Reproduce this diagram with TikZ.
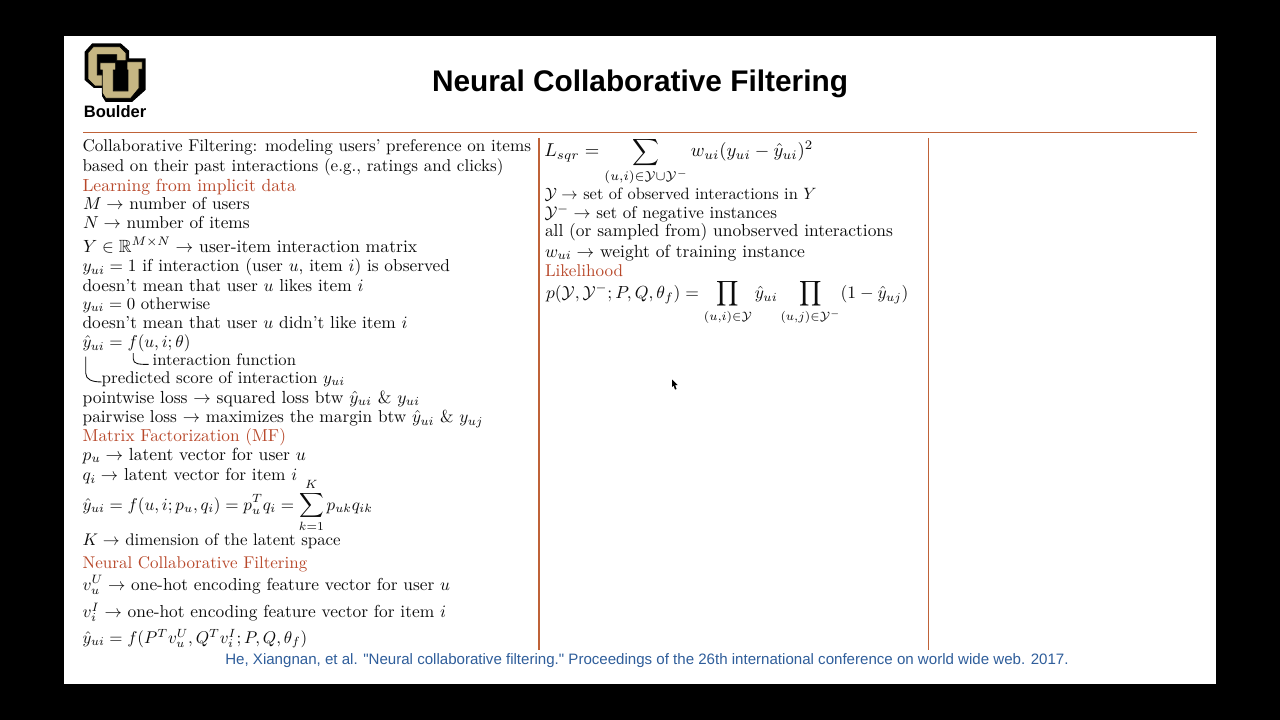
\documentclass[tikz,border=0pt]{standalone}
\usepackage{amsmath,amssymb,graphicx}
\usepackage{fontspec}
\newfontfamily\lib{Liberation Sans}
\definecolor{rust}{HTML}{B8482A}
\definecolor{rulec}{HTML}{BF6238}
\definecolor{cite}{HTML}{2F5E9B}
\definecolor{gold}{HTML}{C6B683}
\definecolor{ink}{HTML}{0C0C0C}
\newdimen\unitpx \unitpx=0.75pt
\newcommand{\fw}[2]{\resizebox{#1\unitpx}{!}{#2}}
\tikzset{
 txt/.style={anchor=base west,inner sep=0pt,outer sep=0pt,text=ink},
 head/.style={txt,text=rust},
 sep/.style={draw=rulec,line width=1.05pt},
 hook/.style={draw=ink,line width=0.65pt},
 logogold/.style={fill=gold,draw=black,line width=0.6pt,line join=miter}
}
\begin{document}
\begin{tikzpicture}[x=0.75pt,y=-0.75pt]
\useasboundingbox (0,0) rectangle (1280,720);
\fill[black] (0,0) rectangle (1280,720);
\fill[white] (64,36) rectangle (1216,684);
% logo
\fill[black] (92.3,43.3)--(120.7,43.3)--(129,50.7)--(129,58.3)--(145.5,58.3)--(145.5,90)--(132,102)--(105.7,102)--(102,96)--(102,88)--(94,88)--(84.7,80)--(84.7,51.7)--cycle;
\path[logogold] (93.3,46.7)--(120,46.7)--(126,52.7)--(126,60.7)--(116.7,60.7)--(116.7,54.7)--(97.3,54.7)--(97.3,75)--(103.3,75)--(103.3,86)--(94.7,86)--(88,79.3)--(88,52.7)--cycle;
\path[logogold] (100,62.7)--(115.7,62.7)--(115.7,70)--(113.3,70)--(113.3,91)--(128,91)--(128,70)--(127,70)--(127,61.7)--(142.3,61.7)--(142.3,69.3)--(139,69.3)--(139,88.3)--(130.7,98.3)--(105.7,98.3)--(102.3,93.3)--(102.3,70)--(100,70)--cycle;
\node[anchor=base west,inner sep=0pt,font=\lib\bfseries,scale=1.24,transform shape] (boulder) at (83.5,118) {Boulder};
\node[anchor=base,inner sep=0pt,font=\lib\bfseries,scale=2.237,transform shape] (title) at (640,92) {Neural Collaborative Filtering};
% rules
\coordinate (r1) at (83,132.5); \coordinate (r2) at (1197,132.5);
\coordinate (v1a) at (539,138); \coordinate (v1b) at (539,650);
\coordinate (v2a) at (928.5,138); \coordinate (v2b) at (928.5,650);
\draw[sep] (r1)--(r2);
\draw[sep] (v1a)--(v1b);
\draw[sep] (v2a)--(v2b);
% left column
\node[txt] (l1) at (82.5,151.7) {\fw{448.5}{Collaborative Filtering: modeling users' preference on items}};
\node[txt] (l2) at (82.5,171.7) {\fw{421}{based on their past interactions (e.g., ratings and clicks)}};
\node[head] (l3) at (82.5,192) {\fw{213.3}{Learning from implicit data}};
\node[txt] (l4) at (83,210) {\fw{166.7}{$M\rightarrow$ number of users}};
\node[txt] (l5) at (83,229) {\fw{166.7}{$N\rightarrow$ number of items}};
\node[txt] (l6) at (83,252.3) {\fw{334.3}{$Y\in\mathbb{R}^{M\times N}\rightarrow$ user-item interaction matrix}};
\node[txt] (l7) at (82.5,271.5) {\fw{367.5}{$y_{ui}=1$ if interaction (user $u$, item $i$) is observed}};
\node[txt] (l8) at (82.5,291) {\fw{281}{doesn't mean that user $u$ likes item $i$}};
\node[txt] (l9) at (82.5,309.3) {\fw{127.7}{$y_{ui}=0$ otherwise}};
\node[txt] (l10) at (82.5,328.3) {\fw{325}{doesn't mean that user $u$ didn't like item $i$}};
\node[txt] (l11) at (82.5,347.5) {\fw{108}{$\hat y_{ui}=f(u,i;\theta)$}};
\node[txt] (l12) at (152.7,365.7) {\fw{143.3}{interaction function}};
\node[txt] (l13) at (101.7,383.3) {\fw{243.3}{predicted score of interaction $y_{ui}$}};
\node[txt] (l14) at (82.7,403) {\fw{337.3}{pointwise loss $\rightarrow$ squared loss btw $\hat y_{ui}$ \& $y_{ui}$}};
\node[txt] (l15) at (82.7,422.7) {\fw{400.6}{pairwise loss $\rightarrow$ maximizes the margin btw $\hat y_{ui}$ \& $y_{uj}$}};
\node[head] (l16) at (82.7,441.7) {\fw{203.3}{Matrix Factorization (MF)}};
\node[txt] (l17) at (82.7,460) {\fw{223.3}{$p_u\rightarrow$ latent vector for user $u$}};
\node[txt] (l18) at (82.7,480.7) {\fw{214.6}{$q_i\rightarrow$ latent vector for item $i$}};
\node[txt] (l19) at (82.7,510) {\fw{290}{$\displaystyle \hat y_{ui}=f(u,i;p_u,q_i)=p_u^Tq_i=\sum_{k=1}^{K}p_{uk}q_{ik}$}};
\node[txt] (l20) at (82.7,545) {\fw{258}{$K\rightarrow$ dimension of the latent space}};
\node[head] (l21) at (82.7,568) {\fw{224.6}{Neural Collaborative Filtering}};
\node[txt] (l22) at (82.7,590) {\fw{367.3}{$v_u^U\rightarrow$ one-hot encoding feature vector for user $u$}};
\node[txt] (l23) at (82.7,617.3) {\fw{363.3}{$v_i^I\rightarrow$ one-hot encoding feature vector for item $i$}};
\node[txt] (l24) at (82.7,643.3) {\fw{224.6}{$\hat y_{ui}=f(P^Tv_u^U,Q^Tv_i^I;P,Q,\theta_f)$}};
% hooks
\coordinate (h1) at (133.3,353);
\coordinate (h2) at (85.7,356.5);
\coordinate (e1) at ([xshift=-3pt,yshift=1pt]l12.base west);
\coordinate (e2) at ([yshift=1pt]l13.base west);
\draw[hook] (h1)--(133.3,359) .. controls (133.3,364) and (139,364.5) .. (e1);
\draw[hook] (h2)--(85.7,373) .. controls (85.7,379.5) and (92,382) .. (e2);
% right column
\node[txt] (r01) at (544.3,157) {\fw{269}{$\displaystyle L_{sqr}=\sum_{(u,i)\in\mathcal{Y}\cup\mathcal{Y}^-}w_{ui}(y_{ui}-\hat y_{ui})^2$}};
\node[txt] (r02) at (544.5,199.7) {\fw{272}{$\mathcal{Y}\rightarrow$ set of observed interactions in $Y$}};
\node[txt] (r03) at (544.5,218.2) {\fw{232.5}{$\mathcal{Y}^-\rightarrow$ set of negative instances}};
\node[txt] (r04) at (545,236.7) {\fw{348}{all (or sampled from) unobserved interactions}};
\node[txt] (r05) at (545,257.3) {\fw{260}{$w_{ui}\rightarrow$ weight of training instance}};
\node[head] (r06) at (545,276.3) {\fw{78}{Likelihood}};
\node[txt] (r07) at (546,298.6) {\fw{362.5}{$\displaystyle p(\mathcal{Y},\mathcal{Y}^-;P,Q,\theta_f)=\prod_{(u,i)\in\mathcal{Y}}\hat y_{ui}\prod_{(u,j)\in\mathcal{Y}^-}(1-\hat y_{uj})$}};
% citation
\node[anchor=base,inner sep=0pt,font=\lib,scale=1.131,transform shape,text=cite] (cit) at (647,664) {He, Xiangnan, et al. "Neural collaborative filtering." Proceedings of the 26th international conference on world wide web. 2017.};
% cursor
\fill[black] (672,379.5)--(672,387)--(673.6,385.6)--(675,389.5)--(676.5,389)--(675.2,385.2)--(677.5,385)--cycle;
\end{tikzpicture}
\end{document}
